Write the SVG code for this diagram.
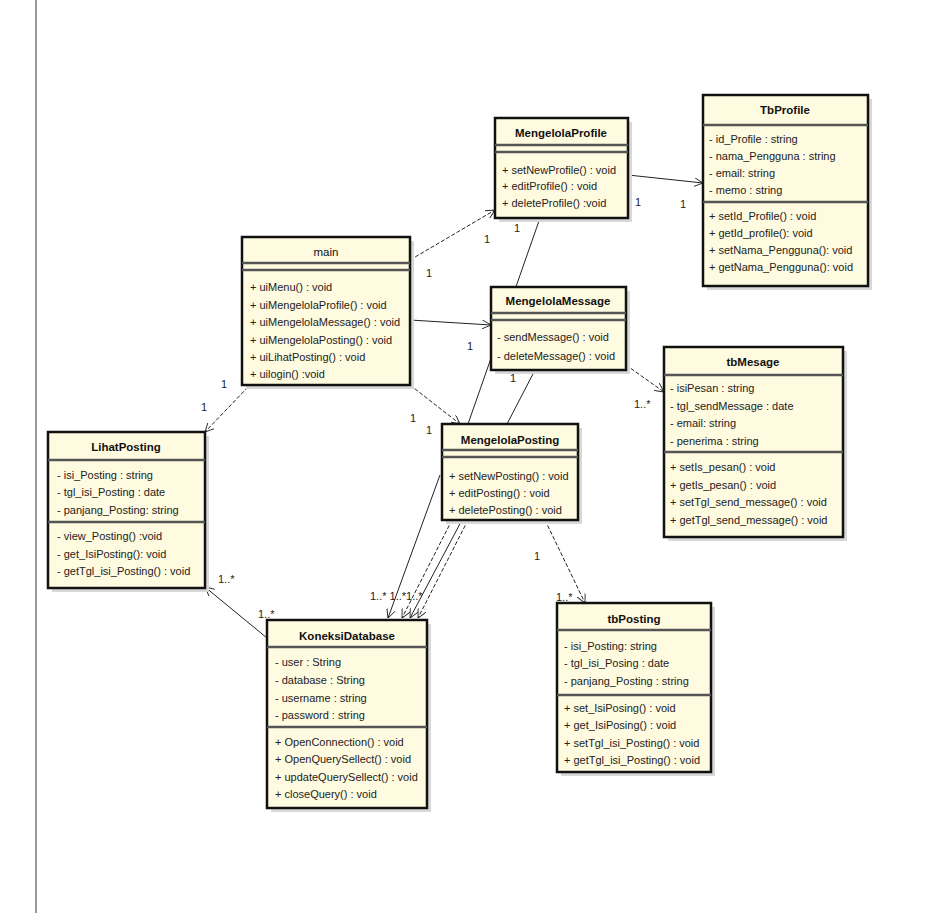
<svg xmlns="http://www.w3.org/2000/svg" width="937" height="913" viewBox="0 0 937 913">
<style>
.b{fill:#fffbe0;stroke:#111;stroke-width:2.5}
.s{fill:#d8d8d8}
.d{stroke:#555;stroke-width:2.5}
.t{font-family:"Liberation Sans",Arial,sans-serif;font-size:11px;fill:#222}
.h{font-family:"Liberation Sans",Arial,sans-serif;font-size:11.5px;font-weight:bold;fill:#111;text-anchor:middle}
.l{fill:none;stroke:#222;stroke-width:1}
.dash{stroke-dasharray:4,2}
.m{font-family:"Liberation Sans",Arial,sans-serif;font-size:11px;fill:#222}
</style>
<defs>
<marker id="a" viewBox="0 0 10 10" refX="10" refY="5" markerWidth="9" markerHeight="9" orient="auto"><path d="M0,0L10,5L0,10" fill="none" stroke="#222" stroke-width="1"/></marker>
</defs>
<rect width="937" height="913" fill="#fff"/>
<line x1="36" y1="0" x2="36" y2="913" stroke="#333" stroke-width="1"/>
<g id="connectors">
<path class="l dash" d="M410,260L495,210" marker-end="url(#a)"/>
<path class="l" d="M410,320L491,325" marker-end="url(#a)"/>
<path class="l dash" d="M410,385L460,424" marker-end="url(#a)"/>
<path class="l dash" d="M248,387L205,432" marker-end="url(#a)"/>
<path class="l" d="M628,175L703,183" marker-end="url(#a)"/>
<path class="l dash" d="M626,365L664,392" marker-end="url(#a)"/>
<path class="l dash" d="M545,520L585,603" marker-end="url(#a)"/>
<path class="l" d="M267,638L205,587" marker-end="url(#a)"/>
<path class="l" d="M540,218L468,424"/>
<path class="l" d="M535,370L507,424"/>
<path class="l" d="M440,475L388,618" marker-end="url(#a)"/>
<path class="l dash" d="M452,520L402,618" marker-end="url(#a)"/>
<path class="l dash" d="M468,520L418,618" marker-end="url(#a)"/>
<path class="l" d="M462,520L410,618" marker-end="url(#a)"/>
<text class="m" x="426" y="277">1</text><text class="m" x="484" y="243">1</text><text class="m" x="514" y="232">1</text>
<text class="m" x="467" y="350">1</text><text class="m" x="510" y="382">1</text>
<text class="m" x="410" y="422">1</text><text class="m" x="426" y="434">1</text>
<text class="m" x="221" y="388">1</text><text class="m" x="201" y="411">1</text>
<text class="m" x="635" y="206">1</text><text class="m" x="680" y="208">1</text>
<text class="m" x="634" y="408">1..*</text>
<text class="m" x="534" y="560">1</text><text class="m" x="556" y="601">1..*</text>
<text class="m" x="218" y="583">1..*</text><text class="m" x="258" y="618">1..*</text>
<text class="m" x="370" y="600">1..* 1..*1..*</text>
</g>
<g id="MengelolaProfile"><rect class="s" x="499" y="122" width="133" height="100"/><rect class="b" x="495" y="118" width="133" height="100"/><line class="d" x1="495" y1="145" x2="628" y2="145"/><line class="d" x1="495" y1="152" x2="628" y2="152"/><text class="h" x="561" y="137">MengelolaProfile</text><text class="t" x="502" y="174">+ setNewProfile() : void</text><text class="t" x="502" y="190">+ editProfile() : void</text><text class="t" x="502" y="207">+ deleteProfile() :void</text></g>
<g id="TbProfile"><rect class="s" x="707" y="99" width="165" height="191"/><rect class="b" x="703" y="95" width="165" height="191"/><line class="d" x1="703" y1="125" x2="868" y2="125"/><line class="d" x1="703" y1="202" x2="868" y2="202"/><text class="h" x="785" y="114">TbProfile</text><text class="t" x="709" y="143">- id_Profile : string</text><text class="t" x="709" y="160">- nama_Pengguna : string</text><text class="t" x="709" y="177">- email: string</text><text class="t" x="709" y="194">- memo : string</text><text class="t" x="709" y="220">+ setId_Profile() : void</text><text class="t" x="709" y="237">+ getId_profile(): void</text><text class="t" x="709" y="254">+ setNama_Pengguna(): void</text><text class="t" x="709" y="271">+ getNama_Pengguna(): void</text></g>
<g id="main"><rect class="s" x="246" y="241" width="168" height="148"/><rect class="b" x="242" y="237" width="168" height="148"/><line class="d" x1="242" y1="263" x2="410" y2="263"/><line class="d" x1="242" y1="270" x2="410" y2="270"/><text class="h" x="326" y="256" style="font-weight:normal">main</text><text class="t" x="250" y="291">+ uiMenu() : void</text><text class="t" x="250" y="309">+ uiMengelolaProfile() : void</text><text class="t" x="250" y="326">+ uiMengelolaMessage() : void</text><text class="t" x="250" y="344">+ uiMengelolaPosting() : void</text><text class="t" x="250" y="361">+ uiLihatPosting() : void</text><text class="t" x="250" y="378">+ uilogin() :void</text></g>
<g id="MengelolaMessage"><rect class="s" x="495" y="291" width="135" height="83"/><rect class="b" x="491" y="287" width="135" height="83"/><line class="d" x1="491" y1="313" x2="626" y2="313"/><line class="d" x1="491" y1="320" x2="626" y2="320"/><text class="h" x="558" y="305">MengelolaMessage</text><text class="t" x="497" y="341">- sendMessage() : void</text><text class="t" x="497" y="360">- deleteMessage() : void</text></g>
<g id="tbMesage"><rect class="s" x="668" y="351" width="179" height="190"/><rect class="b" x="664" y="347" width="179" height="190"/><line class="d" x1="664" y1="375" x2="843" y2="375"/><line class="d" x1="664" y1="452" x2="843" y2="452"/><text class="h" x="753" y="366">tbMesage</text><text class="t" x="670" y="392">- isiPesan : string</text><text class="t" x="670" y="410">- tgl_sendMessage : date</text><text class="t" x="670" y="427">- email: string</text><text class="t" x="670" y="445">- penerima : string</text><text class="t" x="670" y="471">+ setIs_pesan() : void</text><text class="t" x="670" y="489">+ getIs_pesan() : void</text><text class="t" x="670" y="506">+ setTgl_send_message() : void</text><text class="t" x="670" y="524">+ getTgl_send_message() : void</text></g>
<g id="MengelolaPosting"><rect class="s" x="446" y="428" width="136" height="96"/><rect class="b" x="442" y="424" width="136" height="96"/><line class="d" x1="442" y1="450" x2="578" y2="450"/><line class="d" x1="442" y1="457" x2="578" y2="457"/><text class="h" x="510" y="444">MengelolaPosting</text><text class="t" x="449" y="480">+ setNewPosting() : void</text><text class="t" x="449" y="497">+ editPosting() : void</text><text class="t" x="449" y="514">+ deletePosting() : void</text></g>
<g id="LihatPosting"><rect class="s" x="52" y="436" width="157" height="156"/><rect class="b" x="48" y="432" width="157" height="156"/><line class="d" x1="48" y1="460" x2="205" y2="460"/><line class="d" x1="48" y1="522" x2="205" y2="522"/><text class="h" x="126" y="451">LihatPosting</text><text class="t" x="57" y="479">- isi_Posting : string</text><text class="t" x="57" y="496">- tgl_isi_Posting : date</text><text class="t" x="57" y="514">- panjang_Posting: string</text><text class="t" x="57" y="540">- view_Posting() :void</text><text class="t" x="57" y="558">- get_IsiPosting(): void</text><text class="t" x="57" y="575">- getTgl_isi_Posting() : void</text></g>
<g id="KoneksiDatabase"><rect class="s" x="271" y="624" width="160" height="188"/><rect class="b" x="267" y="620" width="160" height="188"/><line class="d" x1="267" y1="647" x2="427" y2="647"/><line class="d" x1="267" y1="727" x2="427" y2="727"/><text class="h" x="347" y="640">KoneksiDatabase</text><text class="t" x="275" y="666">- user : String</text><text class="t" x="275" y="684">- database : String</text><text class="t" x="275" y="702">- username : string</text><text class="t" x="275" y="719">- password : string</text><text class="t" x="275" y="746">+ OpenConnection() : void</text><text class="t" x="275" y="763">+ OpenQuerySellect() : void</text><text class="t" x="275" y="781">+ updateQuerySellect() : void</text><text class="t" x="275" y="798">+ closeQuery() : void</text></g>
<g id="tbPosting"><rect class="s" x="561" y="607" width="154" height="169"/><rect class="b" x="557" y="603" width="154" height="169"/><line class="d" x1="557" y1="630" x2="711" y2="630"/><line class="d" x1="557" y1="695" x2="711" y2="695"/><text class="h" x="634" y="623">tbPosting</text><text class="t" x="564" y="650">- isi_Posting: string</text><text class="t" x="564" y="667">- tgl_isi_Posing : date</text><text class="t" x="564" y="685">- panjang_Posting : string</text><text class="t" x="564" y="712">+ set_IsiPosing() : void</text><text class="t" x="564" y="729">+ get_IsiPosing() : void</text><text class="t" x="564" y="747">+ setTgl_isi_Posting() : void</text><text class="t" x="564" y="764">+ getTgl_isi_Posting() : void</text></g>
</svg>
